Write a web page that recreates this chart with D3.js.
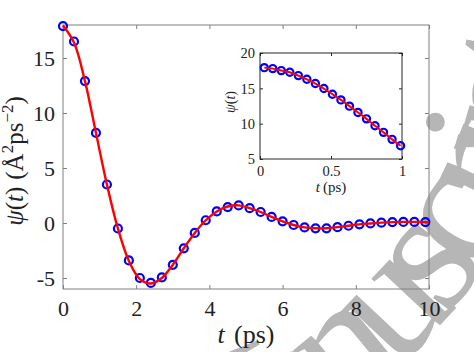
<!DOCTYPE html>
<html><head><meta charset="utf-8">
<script src="https://cdn.jsdelivr.net/npm/d3@7/dist/d3.min.js"></script>
<style>html,body{margin:0;padding:0;background:#fff;}</style>
</head><body>
<script>
// ---- data ----
const mainT = [0,0.3,0.6,0.9,1.2,1.5,1.8,2.1,2.4,2.7,3.0,3.3,3.6,3.9,4.2,4.5,4.8,5.1,5.4,5.7,6.0,6.3,6.6,6.9,7.2,7.5,7.8,8.1,8.4,8.7,9.0,9.3,9.6,9.9];
const mainPsi = [17.9,16.5,12.9,8.2,3.5,-0.5,-3.4,-5.0,-5.45,-4.95,-3.8,-2.3,-0.9,0.25,1.05,1.45,1.6,1.35,1.0,0.55,0.15,-0.18,-0.4,-0.48,-0.48,-0.38,-0.25,-0.12,-0.04,0.03,0.08,0.1,0.1,0.08];
const fitT = [0,0.3,0.6,0.9,1.2,1.5,1.8,2.1,2.4,2.7,3.0,3.3,3.6,3.9,4.2,4.5,4.8,5.1,5.4,5.7,6.0,6.3,6.6,6.9,7.2,7.5,7.8,8.1,8.4,8.7,9.0,9.3,9.6,10];
const fitPsi = [17.95,16.4,12.9,8.2,3.5,-0.5,-3.45,-5.1,-5.5,-5.0,-3.8,-2.3,-0.9,0.25,1.05,1.5,1.6,1.35,1.0,0.55,0.15,-0.18,-0.4,-0.48,-0.48,-0.38,-0.25,-0.12,-0.04,0.03,0.08,0.1,0.1,0.08];
const insetT = [0.03,0.09,0.15,0.21,0.27,0.33,0.39,0.45,0.51,0.57,0.63,0.69,0.75,0.81,0.87,0.93,0.99];
const insetPsi = [17.93,17.79,17.51,17.27,16.8,16.28,15.68,14.97,14.17,13.36,12.48,11.59,10.68,9.7,8.77,7.78,6.88];
const mainXTicks = [0,2,4,6,8,10];
const mainYTicks = [-5,0,5,10,15];
const insetXTicks = [0,0.5,1];
const insetYTicks = [5,10,15,20];
const watermarkText = "Manuscript";

const W = 474, H = 352;
const FONT = "'Liberation Serif','Times New Roman',serif";
const svg = d3.select("body").append("svg").attr("width", W).attr("height", H)
  .style("font-family", FONT);
svg.append("rect").attr("width", W).attr("height", H).attr("fill", "#fff");

// ---- watermark (behind) ----
const wmFs = 178, wmR = 557, wmCx = 2, wmCy = -50;
const a0 = 100 * Math.PI / 180, a1 = -15 * Math.PI / 180;
const wp = d3.path();
wp.arc(wmCx, wmCy, wmR, a0, a1, true);
const wm = svg.append("g").attr("transform", "translate(14,13)");
wm.append("defs").append("path").attr("id", "wmPath").attr("d", wp.toString());
wm.append("text").attr("font-size", wmFs).attr("fill", "#b6b6b6").attr("letter-spacing", -17)
  .append("textPath").attr("href", "#wmPath").attr("startOffset", 241)
  .text(watermarkText);

// ---- main axes ----
const x = d3.scaleLinear().domain([0, 10]).range([63, 429]);
const y = d3.scaleLinear().domain([-6, 18]).range([289, 25]);
const axisCol = "#808080", txtCol = "#222";

function styleAxis(g) {
  g.select(".domain").remove();
  g.selectAll(".tick line").attr("stroke", axisCol);
  g.selectAll(".tick text").attr("fill", txtCol).attr("font-family", FONT);
}
const tl = 4;
svg.append("g").attr("transform", `translate(0,${y.range()[0]})`)
  .call(d3.axisBottom(x).tickValues(mainXTicks).tickSize(-tl).tickFormat(d3.format("d")))
  .call(styleAxis)
  .call(g => g.selectAll(".tick text").attr("font-size", 22).attr("y", 27).attr("dy", 0));
svg.append("g").attr("transform", `translate(0,${y.range()[1]})`)
  .call(d3.axisTop(x).tickValues(mainXTicks).tickSize(-tl).tickFormat(""))
  .call(styleAxis);
svg.append("g").attr("transform", `translate(${x.range()[0]},0)`)
  .call(d3.axisLeft(y).tickValues(mainYTicks).tickSize(-tl).tickFormat(d => d < 0 ? "-" + Math.abs(d) : d))
  .call(styleAxis)
  .call(g => g.selectAll(".tick text").attr("font-size", 22).attr("x", -8).attr("dy", "0.34em"));
svg.append("g").attr("transform", `translate(${x.range()[1]},0)`)
  .call(d3.axisRight(y).tickValues(mainYTicks).tickSize(-tl).tickFormat(""))
  .call(styleAxis);
svg.append("rect").attr("x", x(0)).attr("y", y(18)).attr("width", x(10) - x(0)).attr("height", y(-6) - y(18))
  .attr("fill", "none").attr("stroke", axisCol).attr("stroke-width", 1);

// main series
svg.append("g").selectAll("circle").data(mainT).join("circle")
  .attr("cx", d => x(d)).attr("cy", (d, i) => y(mainPsi[i])).attr("r", 4)
  .attr("fill", "none").attr("stroke", "#0000ff").attr("stroke-width", 2.2);
const line = d3.line().x(d => x(d[0])).y(d => y(d[1])).curve(d3.curveCatmullRom.alpha(0.5));
svg.append("path").datum(fitT.map((t, i) => [t, fitPsi[i]])).attr("d", line)
  .attr("fill", "none").attr("stroke", "#ff0000").attr("stroke-width", 2.4);

// labels
const xl = svg.append("text").attr("x", (x(0) + x(10)) / 2).attr("y", 343).attr("text-anchor", "middle")
  .attr("font-size", 26).attr("fill", txtCol);
xl.append("tspan").attr("font-style", "italic").text("t");
xl.append("tspan").text("\u2009(ps)").attr("dx", 4);

const yl = svg.append("text").attr("transform", "translate(23,161) rotate(-90)").attr("text-anchor", "middle")
  .attr("font-size", 25).attr("fill", txtCol);
yl.append("tspan").attr("font-style", "italic").text("\u03C8");
yl.append("tspan").text("(");
yl.append("tspan").attr("font-style", "italic").text("t");
yl.append("tspan").text(")");
yl.append("tspan").attr("dx", 7).text("(\u00C5");
yl.append("tspan").attr("font-size", 17).attr("dy", -10).text("2");
yl.append("tspan").attr("dy", 10).text("ps");
yl.append("tspan").attr("font-size", 17).attr("dy", -10).text("\u22122");
yl.append("tspan").attr("dy", 10).text(")");

// ---- inset ----
const ix = d3.scaleLinear().domain([0, 1]).range([260, 402]);
const iy = d3.scaleLinear().domain([5, 20]).range([159, 53]);
const insCol = "#262626";
function styleInset(g) {
  g.select(".domain").remove();
  g.selectAll(".tick line").attr("stroke", insCol);
  g.selectAll(".tick text").attr("fill", txtCol).attr("font-family", FONT).attr("font-size", 14.5);
}
const itl = 3;
svg.append("g").attr("transform", `translate(0,${iy.range()[0]})`)
  .call(d3.axisBottom(ix).tickValues(insetXTicks).tickSize(-itl).tickFormat(d => d === 0.5 ? "0.5" : d3.format("d")(d)))
  .call(styleInset)
  .call(g => g.selectAll(".tick text").attr("y", 17).attr("dy", 0));
svg.append("g").attr("transform", `translate(0,${iy.range()[1]})`)
  .call(d3.axisTop(ix).tickValues(insetXTicks).tickSize(-itl).tickFormat(""))
  .call(styleInset);
svg.append("g").attr("transform", `translate(${ix.range()[0]},0)`)
  .call(d3.axisLeft(iy).tickValues(insetYTicks).tickSize(-itl).tickFormat(d3.format("d")))
  .call(styleInset)
  .call(g => g.selectAll(".tick text").attr("x", -5).attr("dy", "0.34em"));
svg.append("g").attr("transform", `translate(${ix.range()[1]},0)`)
  .call(d3.axisRight(iy).tickValues(insetYTicks).tickSize(-itl).tickFormat(""))
  .call(styleInset);
svg.append("rect").attr("x", ix(0)).attr("y", iy(20)).attr("width", ix(1) - ix(0)).attr("height", iy(5) - iy(20))
  .attr("fill", "none").attr("stroke", insCol).attr("stroke-width", 1);

svg.append("g").selectAll("circle").data(insetT).join("circle")
  .attr("cx", d => ix(d)).attr("cy", (d, i) => iy(insetPsi[i])).attr("r", 3.6)
  .attr("fill", "none").attr("stroke", "#0000ff").attr("stroke-width", 2.2);
const iline = d3.line().x(d => ix(d[0])).y(d => iy(d[1])).curve(d3.curveCatmullRom.alpha(0.5));
svg.append("path").datum(insetT.map((t, i) => [t, insetPsi[i]])).attr("d", iline)
  .attr("fill", "none").attr("stroke", "#ff0000").attr("stroke-width", 2);

const ixl = svg.append("text").attr("x", (ix(0) + ix(1)) / 2).attr("y", 192).attr("text-anchor", "middle")
  .attr("font-size", 15).attr("fill", txtCol);
ixl.append("tspan").attr("font-style", "italic").text("t");
ixl.append("tspan").attr("dx", 3).text("(ps)");
const iyl = svg.append("text").attr("transform", `translate(235,${(iy(5) + iy(20)) / 2 - 4}) rotate(-90)`)
  .attr("text-anchor", "middle").attr("font-size", 14).attr("fill", txtCol);
iyl.append("tspan").attr("font-style", "italic").text("\u03C8");
iyl.append("tspan").text("(");
iyl.append("tspan").attr("font-style", "italic").text("t");
iyl.append("tspan").text(")");
</script>
</body></html>
